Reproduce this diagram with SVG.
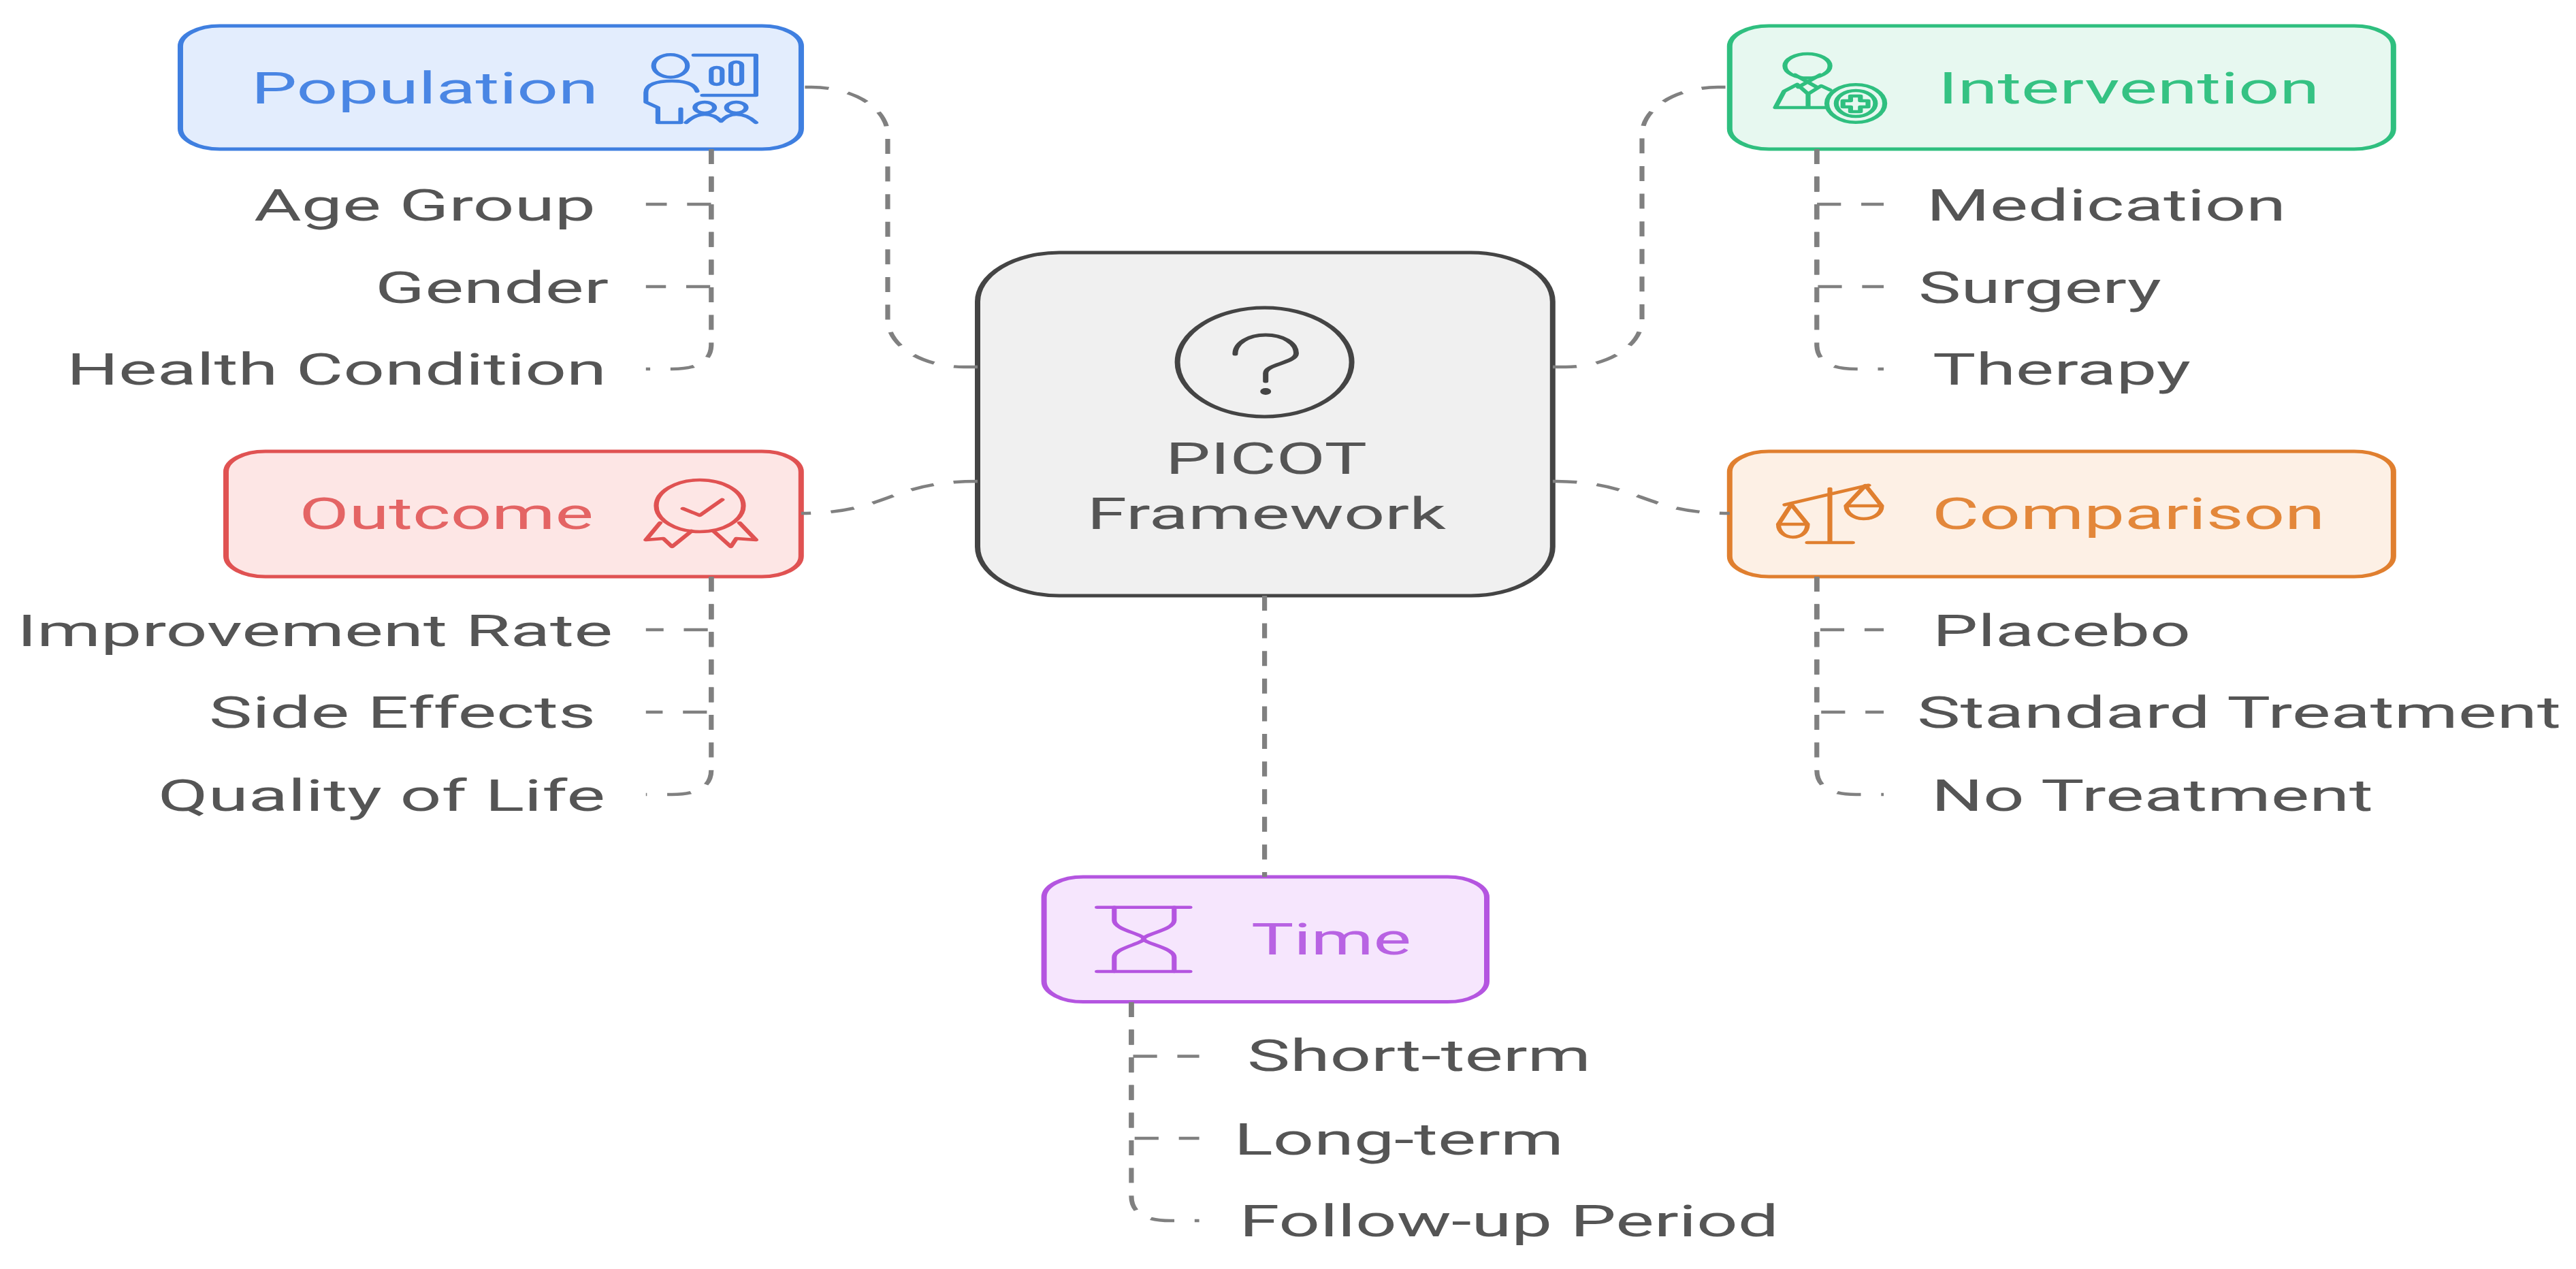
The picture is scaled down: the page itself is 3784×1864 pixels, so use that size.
<svg xmlns="http://www.w3.org/2000/svg" width="3784" height="1864" viewBox="0 0 3784 1864">
<style>
text{font-family:"Roboto","Liberation Sans",sans-serif;font-size:64px;fill:#555;}
.box{stroke-width:5;}
.ic{fill:none;stroke-width:4.5;stroke-linecap:round;stroke-linejoin:round;}
.con{fill:none;stroke:#808080;stroke-width:4.5;stroke-dasharray:22 18.6;}
.blue{fill:#e3edfd;stroke:#3f7fe0;}.blue-i{stroke:#3f7fe0;}text.blue-t{fill:#4a86e4;}
.green{fill:#e7f8f0;stroke:#2fbf7f;}.green-i{stroke:#2fbf7f;}text.green-t{fill:#35c283;}
.red{fill:#fde6e5;stroke:#e05252;}.red-i{stroke:#e05252;}text.red-t{fill:#e46464;}
.orange{fill:#fdf0e5;stroke:#e07f2f;}.orange-i{stroke:#e07f2f;}text.orange-t{fill:#e3873a;}
.purple{fill:#f6e6fd;stroke:#b455e0;}.purple-i{stroke:#b455e0;}text.purple-t{fill:#b863e3;}
</style>
<rect width="3784" height="1864" fill="#fff"/>
<g transform="scale(1.6 1)">
<g id="center">
<rect x="897.5" y="371" width="528" height="504" rx="75" ry="72" fill="#f0f0f0" stroke="#444" stroke-width="5"/>
<circle cx="1161" cy="532" r="80" fill="none" stroke="#444" stroke-width="5"/>
<path d="M1134 520C1134 504 1146 492 1162 492C1178 492 1190 504 1190 519C1190 533 1162 535 1162 548L1162 560" fill="none" stroke="#444" stroke-width="5" stroke-linecap="round"/>
<ellipse cx="1162" cy="575" rx="5" ry="5" fill="#444"/>
<text x="1070" y="696" textLength="185" lengthAdjust="spacingAndGlyphs">PICOT</text>
<text x="998" y="777.5" textLength="329.4" lengthAdjust="spacingAndGlyphs">Framework</text>
</g>
<g id="population">
<rect class="box blue" x="165.6" y="38" width="570" height="181" rx="36" ry="30"/>
<text class="blue-t" x="230.6" y="152" textLength="318.75" lengthAdjust="spacingAndGlyphs">Population</text>
<g class="ic blue-i">
<ellipse cx="615.6" cy="96.8" rx="15.5" ry="16.6"/>
<path d="M617 119C603 119 593 124 593 136V150L604 158V180H625V160M617 119C630 119 638 124 640 134"/>
<path d="M637 81H694V140H645"/>
<rect x="653" y="99" width="10" height="25" rx="5"/>
<rect x="671" y="91" width="10" height="33" rx="5"/>
<ellipse cx="647" cy="158" rx="9" ry="8"/>
<ellipse cx="676" cy="158" rx="9" ry="8"/>
<path d="M630 180Q638 168 647 168Q656 168 662 178M662 178Q668 168 676 168Q686 168 694 180"/>
</g>
</g>
<g id="age-group"><text x="233.1" y="324" textLength="313.75" lengthAdjust="spacingAndGlyphs">Age Group</text></g>
<g id="gender"><text x="344.4" y="445" textLength="214.4" lengthAdjust="spacingAndGlyphs">Gender</text></g>
<g id="health-condition"><text x="61.25" y="565" textLength="495.6" lengthAdjust="spacingAndGlyphs">Health Condition</text></g>
<g id="intervention">
<rect class="box green" x="1588" y="38" width="609.4" height="181" rx="36" ry="30"/>
<text class="green-t" x="1779.4" y="152" textLength="350" lengthAdjust="spacingAndGlyphs">Intervention</text>
<g class="ic green-i">
<ellipse cx="1659.4" cy="96.8" rx="20.7" ry="17.8"/>
<path d="M1648 110L1668 128M1671 110L1651 128"/>
<path d="M1630 158L1638 134L1650 124L1660 138L1672 126L1680 132M1660 138V158M1630 158H1676"/>
<ellipse cx="1703.8" cy="152" rx="26.6" ry="27.7"/>
<ellipse cx="1703.8" cy="152" rx="18" ry="19"/>
<path d="M1699 141H1708V148H1715V157H1708V164H1699V157H1692V148H1699Z"/>
</g>
</g>
<g id="medication"><text x="1768.75" y="324" textLength="330" lengthAdjust="spacingAndGlyphs">Medication</text></g>
<g id="surgery"><text x="1761.25" y="445" textLength="223" lengthAdjust="spacingAndGlyphs">Surgery</text></g>
<g id="therapy"><text x="1774.4" y="565" textLength="236.9" lengthAdjust="spacingAndGlyphs">Therapy</text></g>
<g id="outcome">
<rect class="box red" x="207.5" y="663" width="528" height="184" rx="36" ry="30"/>
<text class="red-t" x="274.7" y="777" textLength="270.3" lengthAdjust="spacingAndGlyphs">Outcome</text>
<g class="ic red-i">
<ellipse cx="642.5" cy="743" rx="40" ry="38"/>
<path d="M627 747L642.5 757L663 734"/>
<path d="M606 768L593 793L609 791L617 803L635 780"/>
<path d="M679 768L694 793L676 791L671 803L655 780"/>
</g>
</g>
<g id="improvement-rate"><text x="15.6" y="949" textLength="546.9" lengthAdjust="spacingAndGlyphs">Improvement Rate</text></g>
<g id="side-effects"><text x="191.9" y="1069" textLength="355" lengthAdjust="spacingAndGlyphs">Side Effects</text></g>
<g id="quality-of-life"><text x="145" y="1191" textLength="410.6" lengthAdjust="spacingAndGlyphs">Quality of Life</text></g>
<g id="comparison">
<rect class="box orange" x="1588" y="663" width="609.4" height="184" rx="36" ry="30"/>
<text class="orange-t" x="1773.75" y="777" textLength="360.6" lengthAdjust="spacingAndGlyphs">Comparison</text>
<g class="ic orange-i">
<path d="M1638.7 741.4L1715.6 712.7M1680 718V795M1659.4 797H1700.8"/>
<path d="M1644.6 741L1632.8 770H1659.4ZM1632.8 770C1632.8 783 1640 789 1646 789C1653 789 1659.4 783 1659.4 770"/>
<path d="M1712.7 713L1695 743H1727.5ZM1695 743C1695 756 1704 762 1711 762C1719 762 1727.5 756 1727.5 743"/>
</g>
</g>
<g id="placebo"><text x="1774.4" y="949" textLength="236.9" lengthAdjust="spacingAndGlyphs">Placebo</text></g>
<g id="standard-treatment"><text x="1760" y="1069" textLength="591.25" lengthAdjust="spacingAndGlyphs">Standard Treatment</text></g>
<g id="no-treatment"><text x="1773.1" y="1191" textLength="405.6" lengthAdjust="spacingAndGlyphs">No Treatment</text></g>
<g id="time">
<rect class="box purple" x="958.5" y="1288" width="406.5" height="183.6" rx="36" ry="30"/>
<text class="purple-t" x="1148.75" y="1402" textLength="146.9" lengthAdjust="spacingAndGlyphs">Time</text>
<g class="ic purple-i">
<path d="M1007.3 1332.7H1092.5M1007.3 1427H1092.5"/>
<path d="M1023 1332.7V1352C1023 1366 1050 1372 1050 1379C1050 1386 1023 1392 1023 1406V1427"/>
<path d="M1078 1332.7V1352C1078 1366 1050 1372 1050 1379C1050 1386 1078 1392 1078 1406V1427"/>
</g>
</g>
<g id="short-term"><text x="1145" y="1573.5" textLength="315.6" lengthAdjust="spacingAndGlyphs">Short-term</text></g>
<g id="long-term"><text x="1133" y="1695.6" textLength="302.5" lengthAdjust="spacingAndGlyphs">Long-term</text></g>
<g id="follow-up-period"><text x="1137.8" y="1816" textLength="495.3" lengthAdjust="spacingAndGlyphs">Follow-up Period</text></g>
<g id="connectors" class="con">
<path d="M897.5 539H885A70 70 0 0 1 815 469V198A70 70 0 0 0 745 128H736"/>
<path d="M1425.6 539H1437A70 70 0 0 0 1507.5 469V198A70 70 0 0 1 1577 128H1588"/>
<path d="M897.5 707C816 707 816 754 735.6 754"/>
<path d="M1425.6 707C1507 707 1507 754 1588 754"/>
<path d="M1161 875V1288"/>
<path d="M653 219V300H593"/>
<path d="M653 219V421H593"/>
<path d="M653 219V506Q653 542 617 542H593"/>
<path d="M1668 219V300H1729.4"/>
<path d="M1668 219V421H1729.4"/>
<path d="M1668 219V506Q1668 542 1704 542H1729.4"/>
<path d="M653 847V925H593"/>
<path d="M653 847V1046H593"/>
<path d="M653 847V1131Q653 1167 617 1167H593"/>
<path d="M1668 847V925H1729.4"/>
<path d="M1668 847V1046H1729.4"/>
<path d="M1668 847V1131Q1668 1167 1704 1167H1729.4"/>
<path d="M1038.7 1472V1551.6H1101"/>
<path d="M1038.7 1472V1672H1101"/>
<path d="M1038.7 1472V1757Q1038.7 1793 1074.7 1793H1101"/>
</g>
</g>
</svg>
